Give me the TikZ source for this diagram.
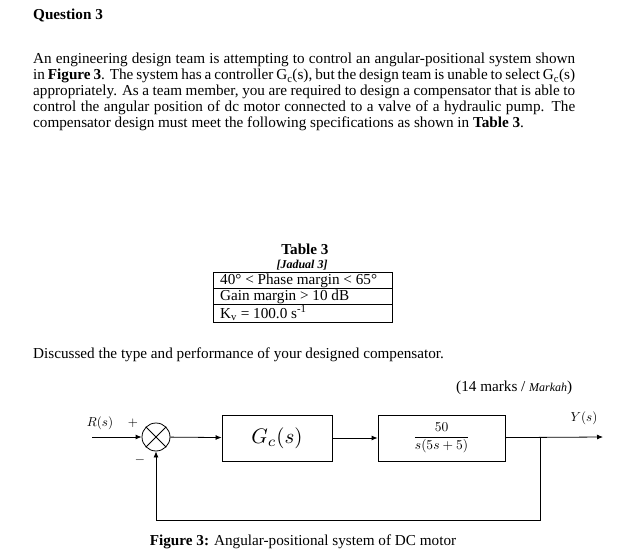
\documentclass[tikz,border=0pt]{standalone}
\usepackage{fontspec}
\setmainfont{Liberation Serif}
\usetikzlibrary{arrows.meta}
\begin{document}
\begin{tikzpicture}[x=1pt,y=-1pt,
  txt/.style={anchor=base west,inner sep=0pt,font=\fontsize{15.2}{16}\selectfont},
  blk/.style={draw,line width=0.8pt,minimum width=110pt,minimum height=46pt},
  con/.style={line width=0.8pt,-{Latex[length=6pt,width=5pt]}},
  ln/.style={line width=0.8pt}]
\useasboundingbox (0,0) rectangle (629,553);
\node[txt,font=\fontsize{15.2}{16}\bfseries] (q) at (33,20) {Question 3};
\node[txt] (l1) at (33,64) {\makebox[542pt][s]{An engineering design team is attempting to control an angular-positional system shown}};
\node[txt] (l2) at (33,80) {\makebox[542pt][s]{in \textbf{Figure 3}. The system has a controller G\textsubscript{c}(s), but the design team is unable to select G\textsubscript{c}(s)}};
\node[txt] (l3) at (33,96) {\makebox[542pt][s]{appropriately. As a team member, you are required to design a compensator that is able to}};
\node[txt] (l4) at (33,112) {\makebox[542pt][s]{control the angular position of dc motor connected to a valve of a hydraulic pump. The}};
\node[txt] (l5) at (33,128) {compensator design must meet the following specifications as shown in \textbf{Table 3}.};
\node[txt,anchor=base,font=\fontsize{15.2}{16}\bfseries] (t3) at (305,255) {Table 3};
\node[txt,anchor=base,font=\fontsize{12}{12}\bfseries\itshape] (j3) at (302,269) {[Jadual 3]};
\draw[ln] (213,272) rectangle (392,322) (213,288) -- (392,288) (213,304) -- (392,304);
\node[txt] (r1) at (220,285) {40° < Phase margin < 65°};
\node[txt] (r2) at (220,301) {Gain margin > 10 dB};
\node[txt] (r3) at (220,318) {K\textsubscript{v} = 100.0 s\textsuperscript{-1}};
\node[txt] (d) at (33,358) {Discussed the type and performance of your designed compensator.};
\node[txt] (m) at (456,391) {(14 marks / {\fontsize{12}{12}\selectfont\itshape Markah})};
% diagram
\node[draw,circle,line width=0.8pt,minimum size=28pt,inner sep=0pt] (s) at (156,437) {};
\draw[line width=0.8pt] (s.north west) -- (s.south east) (s.north east) -- (s.south west);
\node[blk] (g) at (277,438) {\scalebox{2.1}{$G_c(s)$}};
\node[blk,minimum width=127pt] (p) at (441.5,438) {\scalebox{1.35}{$\displaystyle\frac{50}{s(5s+5)}$}};
\coordinate (in) at (92,437);
\coordinate (out) at (603,437);
\coordinate (br) at (540,437);
\coordinate (b1) at (540,520);
\coordinate (b2) at (156,520);
\draw[con] (in) -- (s);
\draw[con] (s) -- (g);
\draw[con] (g) -- (p);
\draw[con] (p) -- (out);
\draw[con] (br) -- (b1) -- (b2) -- (s);
\node (R) at (100,423) {\scalebox{1.3}{$R(s)$}};
\node (Y) at (584,418) {\scalebox{1.3}{$Y(s)$}};
\node (pl) at (133,423) {\scalebox{1.3}{$+$}};
\node (mi) at (140,460) {\scalebox{1.3}{$-$}};
\node[txt,anchor=base] (cap) at (303,545) {\textbf{Figure 3:} Angular-positional system of DC motor};
\end{tikzpicture}
\end{document}
